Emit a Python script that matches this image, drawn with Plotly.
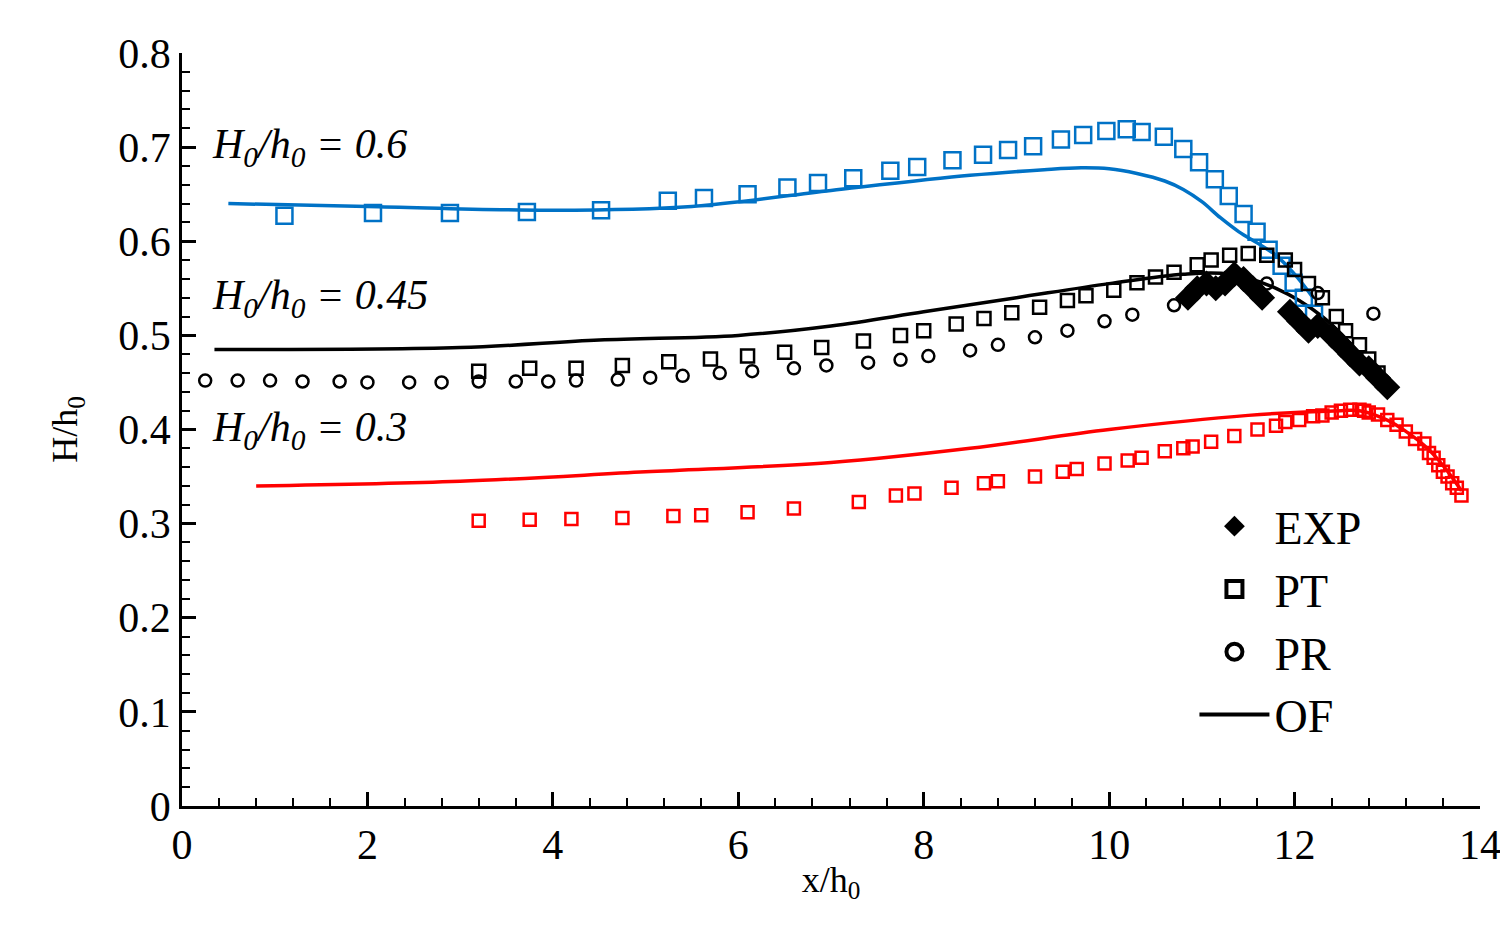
import plotly.graph_objects as go

blue_pt_x = [1.105,2.06,2.89,3.72,4.52,5.24,5.63,6.10,6.53,6.86,7.24,7.64,7.93,8.31,8.64,8.91,9.18,9.48,9.72,9.97,10.19,10.35,10.59,10.80,10.97,11.14,11.29,11.45,11.59,11.72,11.86,11.99,12.10,12.21]
blue_pt_y = [0.627,0.630,0.630,0.631,0.633,0.643,0.646,0.650,0.657,0.662,0.667,0.675,0.679,0.686,0.692,0.697,0.701,0.708,0.713,0.717,0.719,0.716,0.711,0.698,0.684,0.666,0.648,0.629,0.610,0.591,0.574,0.556,0.540,0.523]
blue_of_x = [0.5,2,4,5.5,7,8.5,9.3,9.7,10.0,10.3,10.6,10.8,11.0,11.2,11.4,11.6,11.8,12.0,12.2]
blue_of_y = [0.640,0.637,0.633,0.637,0.654,0.670,0.676,0.678,0.677,0.672,0.664,0.655,0.642,0.625,0.610,0.598,0.585,0.565,0.540]

blk_pt_x = [3.2,3.75,4.25,4.75,5.25,5.7,6.1,6.5,6.9,7.35,7.75,8.0,8.35,8.65,8.95,9.25,9.55,9.75,10.05,10.3,10.5,10.7,10.95,11.1,11.3,11.5,11.7,11.9,12.0,12.15,12.3,12.45,12.55,12.7,12.8,12.9]
blk_pt_y = [0.462,0.465,0.465,0.468,0.472,0.475,0.478,0.482,0.487,0.494,0.500,0.505,0.512,0.518,0.524,0.530,0.537,0.542,0.548,0.556,0.562,0.567,0.575,0.580,0.585,0.587,0.585,0.580,0.570,0.555,0.540,0.520,0.505,0.490,0.475,0.460]
blk_pr_x = [0.25,0.6,0.95,1.3,1.7,2.0,2.45,2.8,3.2,3.6,3.95,4.25,4.7,5.05,5.4,5.8,6.15,6.6,6.95,7.4,7.75,8.05,8.5,8.8,9.2,9.55,9.95,10.25,10.7,11.7,12.25,12.85]
blk_pr_y = [0.452,0.452,0.452,0.451,0.451,0.450,0.450,0.450,0.451,0.451,0.451,0.452,0.453,0.455,0.457,0.460,0.462,0.465,0.468,0.471,0.474,0.478,0.484,0.490,0.498,0.505,0.515,0.522,0.532,0.555,0.545,0.523]
blk_of_x = [0.35,3,4.5,6,7,8,9,10,10.8,11.3,11.8,12.3,12.8]
blk_of_y = [0.485,0.487,0.495,0.500,0.510,0.525,0.540,0.555,0.565,0.565,0.550,0.520,0.470]

exp_x = [10.85,10.95,11.05,11.15,11.25,11.35,11.45,11.55,11.65,11.95,12.05,12.15,12.25,12.4,12.5,12.6,12.7,12.8,12.9,13.0]
exp_y = [0.540,0.550,0.555,0.550,0.555,0.565,0.560,0.550,0.540,0.525,0.515,0.505,0.510,0.500,0.490,0.480,0.470,0.465,0.455,0.445]

red_pt_x = [3.2,3.75,4.2,4.75,5.3,5.6,6.1,6.6,7.3,7.7,7.9,8.3,8.65,8.8,9.2,9.5,9.65,9.95,10.2,10.35,10.6,10.8,10.9,11.1,11.35,11.6,11.8,11.9,12.05,12.2,12.3,12.4,12.5,12.6,12.7,12.75,12.8,12.9,13.0,13.1,13.2,13.3,13.4,13.45,13.5,13.55,13.6,13.65,13.7,13.75,13.8]
red_pt_y = [0.303,0.304,0.305,0.306,0.308,0.309,0.312,0.316,0.323,0.330,0.332,0.338,0.343,0.345,0.350,0.355,0.358,0.364,0.367,0.370,0.377,0.380,0.382,0.387,0.393,0.400,0.404,0.408,0.410,0.414,0.415,0.418,0.420,0.421,0.421,0.420,0.418,0.416,0.410,0.405,0.398,0.390,0.385,0.375,0.370,0.362,0.355,0.350,0.343,0.338,0.330]
red_of_x = [0.8,3,5,7,8.5,10,11.5,12.5,12.7,13.0,13.2,13.4,13.6,13.8]
red_of_y = [0.340,0.345,0.355,0.365,0.380,0.400,0.415,0.420,0.420,0.410,0.398,0.383,0.362,0.335]

y_ticks = [0, 0.1, 0.2, 0.3, 0.4, 0.5, 0.6, 0.7, 0.8]
y_ticktext = ["0", "0.1", "0.2", "0.3", "0.4", "0.5", "0.6", "0.7", "0.8"]

labels = ["H<sub>0</sub>/h<sub>0</sub> = 0.6", "H<sub>0</sub>/h<sub>0</sub> = 0.45", "H<sub>0</sub>/h<sub>0</sub> = 0.3"]
label_x = [0.3, 0.3, 0.3]
label_y = [0.67, 0.51, 0.37]

BLUE = "#0072c6"; RED = "#ff0000"; BLK = "black"
SERIF = "Liberation Serif"
fig = go.Figure()
fig.add_trace(go.Scatter(x=blue_of_x, y=blue_of_y, mode="lines", line=dict(color=BLUE, width=3.5, shape="spline"), showlegend=False))
fig.add_trace(go.Scatter(x=blk_of_x, y=blk_of_y, mode="lines", line=dict(color=BLK, width=3.5, shape="spline"), showlegend=False))
fig.add_trace(go.Scatter(x=red_of_x, y=red_of_y, mode="lines", line=dict(color=RED, width=3.5, shape="spline"), showlegend=False))
fig.add_trace(go.Scatter(x=blue_pt_x, y=blue_pt_y, mode="markers", marker=dict(color=BLUE, symbol="square-open", size=16, line=dict(width=2.5)), showlegend=False))
fig.add_trace(go.Scatter(x=blk_pt_x, y=blk_pt_y, mode="markers", marker=dict(color=BLK, symbol="square-open", size=13, line=dict(width=2.5)), showlegend=False))
fig.add_trace(go.Scatter(x=red_pt_x, y=red_pt_y, mode="markers", marker=dict(color=RED, symbol="square-open", size=12, line=dict(width=2.5)), showlegend=False))
fig.add_trace(go.Scatter(x=blk_pr_x, y=blk_pr_y, mode="markers", marker=dict(color=BLK, symbol="circle-open", size=12, line=dict(width=2.5)), showlegend=False))
fig.add_trace(go.Scatter(x=exp_x, y=exp_y, mode="markers", marker=dict(color=BLK, symbol="diamond", size=20), showlegend=False))
fig.add_trace(go.Scatter(x=[None], y=[None], mode="markers", name="EXP", marker=dict(color=BLK, symbol="diamond", size=40)))
fig.add_trace(go.Scatter(x=[None], y=[None], mode="markers", name="PT", marker=dict(color=BLK, symbol="square-open", size=40, line=dict(width=4))))
fig.add_trace(go.Scatter(x=[None], y=[None], mode="markers", name="PR", marker=dict(color=BLK, symbol="circle-open", size=40, line=dict(width=4))))
fig.add_trace(go.Scatter(x=[None], y=[None], mode="lines", name="OF", line=dict(color=BLK, width=4)))

for t, xx, yy in zip(labels, label_x, label_y):
    fig.add_annotation(x=xx, y=yy, text="<i>"+t+"</i>", showarrow=False, xanchor="left", yanchor="bottom",
                       font=dict(family=SERIF, size=42, color="black"))

ax = dict(showgrid=False, zeroline=False, showline=True, linecolor="black", linewidth=2.5,
          ticks="inside", ticklen=14, tickwidth=2.5, tickcolor="black",
          tickfont=dict(family=SERIF, size=42, color="black"))
fig.update_xaxes(range=[0, 14], dtick=2, minor=dict(dtick=0.4, ticks="inside", ticklen=8, tickwidth=2, tickcolor="black"),
                 title=dict(text="x/h<sub>0</sub>", font=dict(family=SERIF, size=36, color="black"), standoff=0), **ax)
fig.update_yaxes(range=[0, 0.8], tickvals=y_ticks, ticktext=y_ticktext,
                 minor=dict(dtick=0.02, ticks="inside", ticklen=8, tickwidth=2, tickcolor="black"),
                 title=dict(text="H/h<sub>0</sub>", font=dict(family=SERIF, size=36, color="black"), standoff=30), **ax)
fig.update_layout(width=1508, height=932, margin=dict(l=174, r=36, t=45, b=134),
                  plot_bgcolor="white", paper_bgcolor="white",
                  legend=dict(x=0.78, y=0.42, xanchor="left", yanchor="top", bgcolor="rgba(0,0,0,0)",
                              font=dict(family=SERIF, size=46, color="black"),
                              itemwidth=70, tracegroupgap=6))
fig.write_html("out.html")
